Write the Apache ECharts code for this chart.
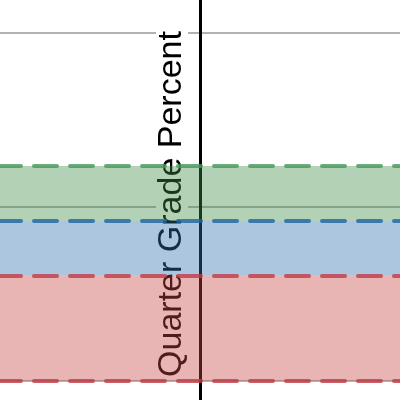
<!DOCTYPE html>
<html>
<head>
<meta charset="utf-8">
<script src="https://cdn.jsdelivr.net/npm/echarts@6/dist/echarts.min.js"></script>
<style>html,body{margin:0;padding:0;background:#fff}#c{width:400px;height:400px}</style>
</head>
<body>
<div id="c"></div>
<script>
// ---- data ----
const axisTitle = 'Quarter Grade Percent';
const yMin = 40;
const yMax = 120.69;
const yInterval = 20;
const bandLower = [60, 72.1, 78.4];
const bandUpper = [72.1, 78.4, 84.7];
const edgeValues = [84.7, 78.4, 72.1, 60];

// ---- styles ----
const bandFill = ['rgba(197,68,68,0.4)', 'rgba(50,112,178,0.4)', 'rgba(65,140,68,0.4)'];
const edgeColor = ['rgba(70,150,90,0.8)', 'rgba(30,100,160,0.8)', 'rgba(190,60,70,0.8)', 'rgba(190,60,70,0.8)'];

const chart = echarts.init(document.getElementById('c'), null, { renderer: 'canvas' });

const areaData = bandLower.map((lo, i) => [
  { yAxis: lo, itemStyle: { color: bandFill[i] } },
  { yAxis: bandUpper[i] }
]);
const lineData = edgeValues.map((v, i) => ({
  yAxis: v,
  lineStyle: { color: edgeColor[i], width: 4, type: [23, 13], dashOffset: 28, cap: 'round' }
}));

chart.setOption({
  animation: false,
  grid: { left: -10, right: -10, top: -147, bottom: -155, containLabel: false, outerBoundsMode: 'none' },
  xAxis: {
    type: 'value', min: -1, max: 1,
    axisLine: { show: false }, axisTick: { show: false }, axisLabel: { show: false }, splitLine: { show: false }
  },
  yAxis: [
    {
      type: 'value', min: yMin, max: yMax, interval: yInterval, z: 3, position: 'left', offset: -210,
      axisLine: { show: true, onZero: false, lineStyle: { color: '#000', width: 3 } },
      axisTick: { show: false }, axisLabel: { show: false }, splitLine: { show: false },
      name: axisTitle, nameLocation: 'middle', nameGap: 12,
      nameTextStyle: { fontFamily: 'Liberation Sans', fontSize: 34, color: '#000', backgroundColor: '#fff', lineHeight: 32 }
    },
    {
      type: 'value', min: yMin, max: yMax, interval: yInterval, z: 1, position: 'left', offset: 0,
      axisLine: { show: false, onZero: false }, axisTick: { show: false }, axisLabel: { show: false },
      splitLine: { show: true, lineStyle: { color: '#999', width: 1.5 } }
    }
  ],
  series: [{
    type: 'line', data: [], yAxisIndex: 0,
    markArea: { silent: true, z: 5, data: areaData },
    markLine: { silent: true, z: 6, symbol: 'none', label: { show: false }, data: lineData }
  }]
});
</script>
</body>
</html>
